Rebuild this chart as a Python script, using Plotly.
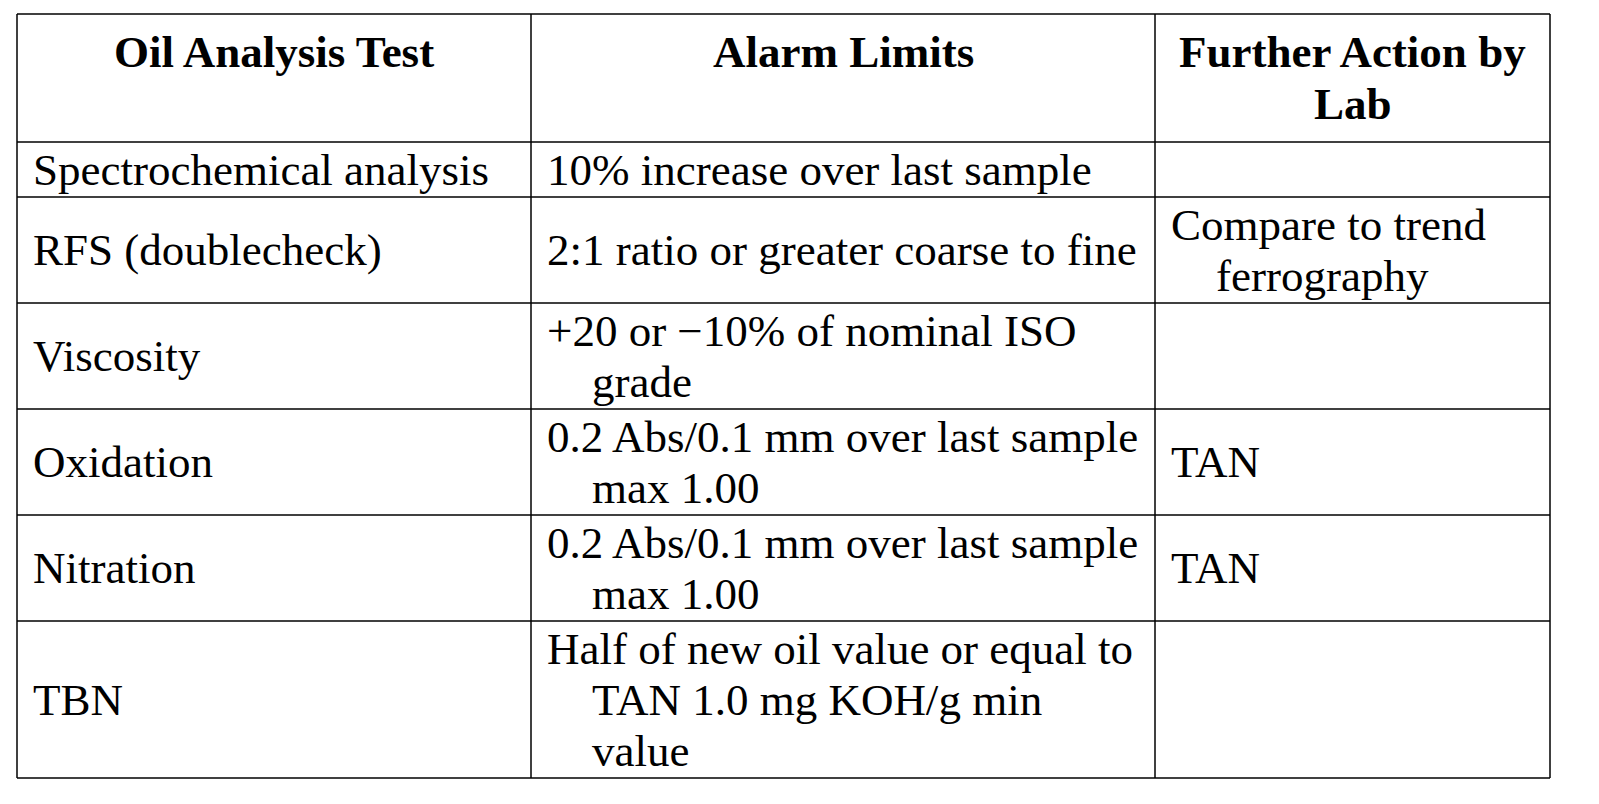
import plotly.graph_objects as go

# table content (each cell is a list of printed lines)
headers = [["Oil Analysis Test"], ["Alarm Limits"], ["Further Action by", "Lab"]]
col1 = [["Spectrochemical analysis"], ["RFS (doublecheck)"], ["Viscosity"],
        ["Oxidation"], ["Nitration"], ["TBN"]]
col2 = [["10% increase over last sample"],
        ["2:1 ratio or greater coarse to fine"],
        ["+20 or \u221210% of nominal ISO", "grade"],
        ["0.2 Abs/0.1 mm over last sample", "max 1.00"],
        ["0.2 Abs/0.1 mm over last sample", "max 1.00"],
        ["Half of new oil value or equal to", "TAN 1.0 mg KOH/g min", "value"]]
col3 = [[], ["Compare to trend", "ferrography"], [], ["TAN"], ["TAN"], []]

col_edges = [17, 531, 1155, 1550]
table_top = 14
header_h = 128
line_h = 51
pad = 4
indent = 45
cell_pad = 14
font_size = 45

fig = go.Figure()
shapes = []
ann = []

row_heights = [max(len(a), len(b), len(c)) * line_h + pad for a, b, c in zip(col1, col2, col3)]
row_edges = [table_top, table_top + header_h]
for h in row_heights:
    row_edges.append(row_edges[-1] + h)

# header
for i, lines in enumerate(headers):
    cx = (col_edges[i] + col_edges[i + 1]) / 2
    for j, t in enumerate(lines):
        ann.append(dict(x=cx, y=table_top + 38 + j * 52, text="<b>%s</b>" % t,
                        xanchor="center", yanchor="middle", showarrow=False))

# body
for r, cells in enumerate(zip(col1, col2, col3)):
    top, bot = row_edges[r + 1], row_edges[r + 2]
    mid = (top + bot) / 2
    for c, lines in enumerate(cells):
        n = len(lines)
        for j, t in enumerate(lines):
            y = mid + (j - (n - 1) / 2) * line_h
            x = col_edges[c] + cell_pad + (indent if j > 0 else 0)
            ann.append(dict(x=x, y=y, text=t, xanchor="left", yanchor="middle", showarrow=False))

# grid lines
for y in row_edges:
    shapes.append(dict(type="line", x0=col_edges[0], x1=col_edges[-1], y0=y, y1=y,
                       line=dict(color="black", width=1.5)))
for x in col_edges:
    shapes.append(dict(type="line", x0=x, x1=x, y0=row_edges[0], y1=row_edges[-1],
                       line=dict(color="black", width=1.5)))

fig.update_layout(
    autosize=True, margin=dict(l=0, r=0, t=0, b=0),
    paper_bgcolor="white", plot_bgcolor="white",
    xaxis=dict(range=[0, 1599], visible=False, fixedrange=True),
    yaxis=dict(range=[804, 0], visible=False, fixedrange=True),
    shapes=shapes, annotations=ann,
    font=dict(family="Liberation Serif", size=font_size, color="black"),
    showlegend=False,
)
post = ("document.body.style.margin='0';document.body.style.overflow='hidden';"
        "var d=document.getElementById('{plot_id}');"
        "Plotly.relayout(d,{width:window.innerWidth,height:window.innerHeight});")
fig.write_html("out.html", default_width="100vw", default_height="100vh",
               post_script=post, config={"responsive": True, "displayModeBar": False})
